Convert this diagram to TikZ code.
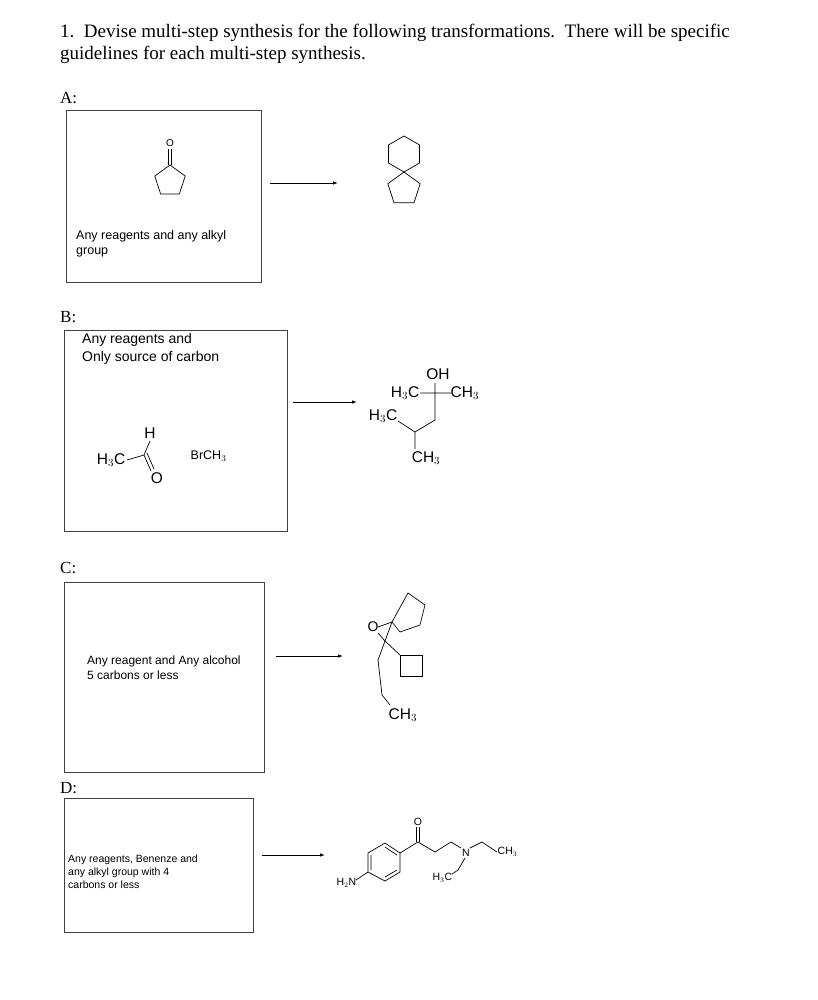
\documentclass[tikz,border=0pt]{standalone}
\usepackage{fontspec}
\setmainfont{Liberation Serif}
\setsansfont{Liberation Sans}
\usetikzlibrary{arrows.meta}
\begin{document}
\begin{tikzpicture}[x=1pt,y=1pt,
  bx/.style={draw=black!75,line width=0.8pt},
  rx/.style={-{Latex[length=5pt,width=3.5pt]},line width=0.8pt},
  bd/.style={line width=0.7pt},
  lab/.style={font=\fontsize{17}{20}\selectfont,anchor=west,inner sep=0},
  note/.style={font=\sffamily\fontsize{12.5}{15.5}\selectfont,anchor=north west,align=left,inner sep=0},
  ch/.style={font=\sffamily\fontsize{15.5}{17}\selectfont,inner sep=0.5pt}]
\useasboundingbox (0,0) rectangle (817,-1000);
\node[lab,align=left,anchor=north west,font=\fontsize{19}{22}\selectfont] (title) at (60,-24) {1.\ \ Devise multi-step synthesis for the following transformations.\ \ There will be specific\\guidelines for each multi-step synthesis.};
% A
\node[lab] (la) at (60,-98) {A:};
\draw[bx] (66,-110) rectangle (261,-282);
\node[note] (na) at (76,-230) {Any reagents and any alkyl\\group};
\coordinate (a1) at (270,-183); \coordinate (a2) at (338,-183);
\draw[rx] (a1) -- (a2);
\begin{scope}[shift={(170,-181)},bd]
\draw (90:16)--(162:16)--(234:16)--(306:16)--(18:16)--cycle;
\draw (-1.5,16)--(-1.5,32) (1.5,16)--(1.5,32);
\node[ch,font=\sffamily\fontsize{10}{12}\selectfont] (o1) at (0,38) {O};
\end{scope}
\begin{scope}[shift={(404,-154)},bd]
\draw (270:18)--(330:18)--(30:18)--(90:18)--(150:18)--(210:18)--cycle;
\end{scope}
\begin{scope}[shift={(404,-189)},bd]
\draw (90:17)--(162:17)--(234:17)--(306:17)--(18:17)--cycle;
\end{scope}
% B
\node[lab] (lb) at (60,-317) {B:};
\draw[bx] (64,-330) rectangle (287,-531);
\node[note,font=\sffamily\fontsize{14}{18}\selectfont] (nb) at (82,-333) {Any reagents and\\Only source of carbon};
\draw[rx] (293,-402) -- (357,-402);
\node[ch] (oh) at (438,-374) {OH};
\node[ch,anchor=east] (h3c1) at (420,-393) {H$_3$C};
\node[ch,anchor=west] (ch3a) at (450,-393) {CH$_3$};
\node[ch,anchor=east] (h3c2) at (398,-416) {H$_3$C};
\node[ch] (ch3b) at (426,-458) {CH$_3$};
\begin{scope}[bd]
\draw (420,-393)--(451,-393) (435,-383)--(435,-420)--(415,-432)--(398,-421) (415,-432)--(415,-449);
\end{scope}
\node[ch,anchor=east] (ac) at (126,-460) {H$_3$C};
\node[ch] (ah) at (150,-433) {H};
\node[ch] (ao) at (157,-478) {O};
\node[ch,font=\sffamily\fontsize{12.5}{14}\selectfont,anchor=west] (brc) at (190,-456) {BrCH$_3$};
\begin{scope}[bd]
\draw (127,-460)--(144,-455)--(150,-441);
\draw (144,-455)--(151,-471) (147,-453)--(154,-469);
\end{scope}
% C
\node[lab] (lc) at (60,-568) {C:};
\draw[bx] (64,-582) rectangle (264,-772);
\node[note,font=\sffamily\fontsize{12}{15}\selectfont] (nc) at (87,-656) {Any reagent and Any alcohol\\5 carbons or less};
\draw[rx] (276,-656) -- (343,-656);
\node[ch,font=\sffamily\fontsize{14}{15}\selectfont] (ep) at (373,-627) {O};
\node[ch,anchor=west] (ch3c) at (388,-715) {CH$_3$};
\begin{scope}[bd]
\draw (392,-622)--(408,-593)--(425,-605)--(420,-625)--(400,-632)--cycle;
\draw (378,-627)--(392,-622)--(385,-641)--(378,-633);
\draw (385,-641)--(400,-655);
\draw (400,-655) rectangle (422,-676);
\draw (385,-641)--(378,-660)--(382,-695)--(390,-705);
\end{scope}
% D
\node[lab] (ld) at (60,-788) {D:};
\draw[bx] (64,-798) rectangle (253,-932);
\node[note,font=\sffamily\fontsize{10.5}{13}\selectfont] (nd) at (68,-855) {Any reagents, Benenze and\\any alkyl group with 4\\carbons or less};
\draw[rx] (262,-855) -- (325,-855);
\begin{scope}[bd]
\draw (385,-843)--(400,-853)--(400,-872)--(385,-881)--(368,-872)--(368,-853)--cycle;
\draw (385,-847)--(397,-855) (397,-870)--(385,-877) (371,-870)--(371,-855);
\draw (368,-872)--(356,-880);
\draw (400,-853)--(418,-842)--(435,-852)--(451,-842)--(461,-848);
\draw (416.5,-842)--(416.5,-827) (419.5,-842)--(419.5,-827);
\draw (470,-848)--(482,-842)--(497,-852);
\draw (465,-858)--(458,-870)--(452,-874);
\end{scope}
\node[ch,font=\sffamily\fontsize{10.5}{12}\selectfont] (od) at (418,-822) {O};
\node[ch,font=\sffamily\fontsize{10.5}{12}\selectfont] (nn) at (466,-853) {N};
\node[ch,font=\sffamily\fontsize{10.5}{12}\selectfont,anchor=west] (ch3d) at (497,-852) {CH$_3$};
\node[ch,font=\sffamily\fontsize{10.5}{12}\selectfont,anchor=east] (h3cd) at (453,-878) {H$_3$C};
\node[ch,font=\sffamily\fontsize{10.5}{12}\selectfont,anchor=east] (h2n) at (357,-883) {H$_2$N};
\end{tikzpicture}
\end{document}
